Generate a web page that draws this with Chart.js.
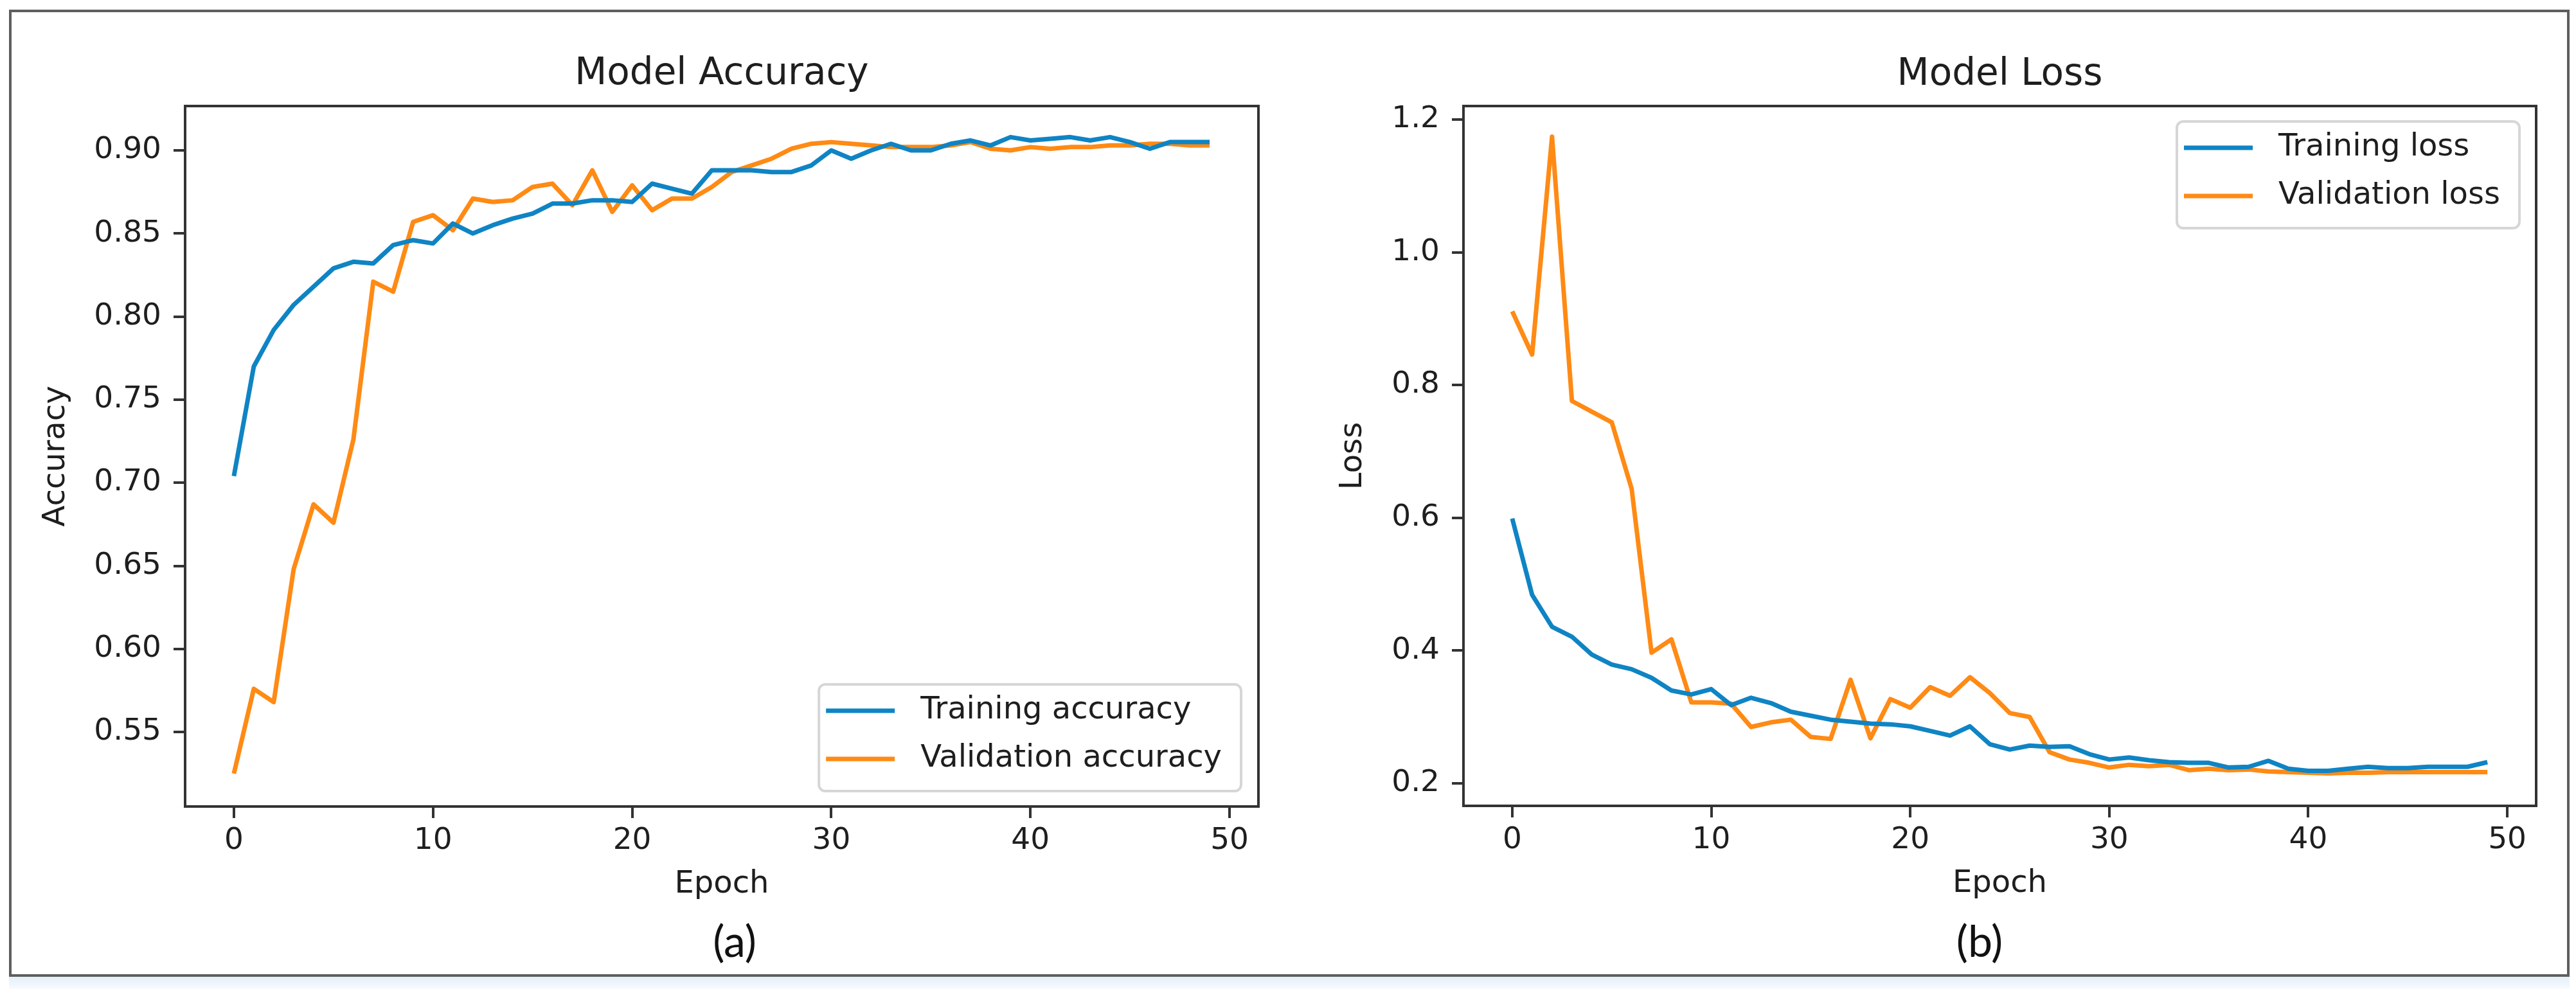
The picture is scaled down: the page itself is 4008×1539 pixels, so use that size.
<!DOCTYPE html>
<html>
<head>
<meta charset="utf-8">
<script src="https://cdn.jsdelivr.net/npm/chart.js@4.4.1/dist/chart.umd.min.js"></script>
<style>
html,body{margin:0;padding:0;background:#fff;}
body{width:4008px;height:1539px;position:relative;overflow:hidden;}
#frame{position:absolute;left:14px;top:15px;width:3984px;height:1505px;box-sizing:border-box;border:4px solid #5e5e5e;}
#strip{position:absolute;left:14px;top:1520px;width:3984px;height:19px;background:linear-gradient(#e4eff9,#f8fbfe);}
canvas{position:absolute;top:0;}
#c1{left:0;}
#c2{left:2004px;}
</style>
</head>
<body>
<div id="frame"></div>
<div id="strip"></div>
<canvas id="c1" width="2004" height="1539"></canvas>
<canvas id="c2" width="2004" height="1539"></canvas>
<script>
// ---------- data ----------
const epochs = [0,1,2,3,4,5,6,7,8,9,10,11,12,13,14,15,16,17,18,19,20,21,22,23,24,25,26,27,28,29,30,31,32,33,34,35,36,37,38,39,40,41,42,43,44,45,46,47,48,49];
const epochTicks = [0,10,20,30,40,50];
const accTicks = [0.55,0.60,0.65,0.70,0.75,0.80,0.85,0.90];
const lossTicks = [0.2,0.4,0.6,0.8,1.0,1.2];

const trainAcc = [0.704,0.770,0.792,0.807,0.818,0.829,0.833,0.832,0.843,0.846,0.844,0.856,0.850,0.855,0.859,0.862,0.868,0.868,0.870,0.870,0.869,0.880,0.877,0.874,0.888,0.888,0.888,0.887,0.887,0.891,0.900,0.895,0.900,0.904,0.900,0.900,0.904,0.906,0.903,0.908,0.906,0.907,0.908,0.906,0.908,0.905,0.901,0.905,0.905,0.905];
const valAcc = [0.525,0.576,0.568,0.648,0.687,0.676,0.726,0.821,0.815,0.857,0.861,0.852,0.871,0.869,0.870,0.878,0.880,0.867,0.888,0.863,0.879,0.864,0.871,0.871,0.878,0.887,0.891,0.895,0.901,0.904,0.905,0.904,0.903,0.902,0.902,0.902,0.903,0.905,0.901,0.900,0.902,0.901,0.902,0.902,0.903,0.903,0.904,0.904,0.903,0.903];
const trainLoss = [0.599,0.484,0.436,0.421,0.394,0.379,0.372,0.359,0.340,0.334,0.342,0.318,0.329,0.321,0.308,0.302,0.296,0.293,0.290,0.289,0.286,0.279,0.272,0.286,0.259,0.251,0.257,0.255,0.256,0.244,0.236,0.239,0.235,0.232,0.231,0.231,0.224,0.225,0.234,0.222,0.219,0.219,0.222,0.225,0.223,0.223,0.225,0.225,0.225,0.232];
const valLoss = [0.911,0.846,1.174,0.776,0.760,0.744,0.644,0.397,0.417,0.322,0.322,0.320,0.285,0.292,0.296,0.270,0.267,0.356,0.268,0.327,0.314,0.345,0.332,0.360,0.336,0.306,0.300,0.247,0.236,0.231,0.224,0.228,0.226,0.228,0.220,0.222,0.220,0.221,0.218,0.217,0.216,0.215,0.216,0.216,0.217,0.217,0.217,0.217,0.217,0.217];

// ---------- style ----------
const FAMILY = '"DejaVu Sans", sans-serif';
const TEXT = '#1e1e1e';
const BLUE = '#0f84c4';
const ORANGE = '#ff8a14';
const SPINE = '#333333';

const pts = arr => epochs.map((e, i) => ({x: e, y: arr[i]}));

const deco = {
  id: 'deco',
  afterDraw(chart, args, o) {
    const {ctx, chartArea: a} = chart;
    ctx.save();
    // axes box
    ctx.strokeStyle = SPINE; ctx.lineWidth = 4;
    ctx.strokeRect(a.left, a.top, a.right - a.left, a.bottom - a.top);
    // title
    ctx.fillStyle = TEXT;
    ctx.font = '58px ' + FAMILY;
    ctx.textAlign = 'center'; ctx.textBaseline = 'alphabetic';
    ctx.fillText(o.title, (a.left + a.right) / 2, o.titleBaseline);
    // legend
    ctx.font = '48px ' + FAMILY;
    const ds = chart.data.datasets;
    const tw = Math.max(...ds.map(d => ctx.measureText(d.label).width));
    const w = 158 + tw + 30, h = 166;
    const x = a.right - o.legendRight - w;
    const y = o.legendTop ? a.top + o.legendGap : a.bottom - o.legendGap - h;
    ctx.beginPath();
    ctx.roundRect(x, y, w, h, 10);
    ctx.fillStyle = 'rgba(255,255,255,0.85)'; ctx.fill();
    ctx.strokeStyle = '#d6d6d6'; ctx.lineWidth = 4; ctx.stroke();
    ds.forEach((d, i) => {
      const cy = y + 41 + i * 75;
      ctx.beginPath(); ctx.moveTo(x + 11, cy); ctx.lineTo(x + 118, cy);
      ctx.strokeStyle = d.borderColor; ctx.lineWidth = 7; ctx.lineCap = 'butt'; ctx.stroke();
      ctx.fillStyle = TEXT; ctx.textAlign = 'left'; ctx.textBaseline = 'middle';
      ctx.fillText(d.label, x + 158, cy);
    });
    // caption
    ctx.font = '68px Lato, "Open Sans", sans-serif';
    ctx.textAlign = 'center'; ctx.textBaseline = 'alphabetic'; ctx.fillStyle = '#111';
    ctx.fillText(o.caption, o.captionX, o.captionBaseline);
    ctx.restore();
  }
};

function lineDs(label, arr, color) {
  return {label, data: pts(arr), borderColor: color, backgroundColor: color, borderWidth: 7,
          pointRadius: 0, tension: 0, fill: false, borderJoinStyle: 'round', borderCapStyle: 'butt'};
}

function makeChart(id, cfg) {
  const tickFont = {family: FAMILY, size: 47};
  const labelFont = {family: FAMILY, size: 48};
  const gridOpt = {display: true, drawOnChartArea: false, drawTicks: true, tickLength: 18, lineWidth: 4, color: SPINE};
  return new Chart(document.getElementById(id), {
    type: 'line',
    data: {datasets: cfg.datasets},
    options: {
      responsive: false, animation: false, devicePixelRatio: 1, events: [],
      layout: {padding: cfg.padding},
      plugins: {legend: {display: false}, tooltip: {enabled: false}, title: {display: false}, deco: cfg.deco},
      scales: {
        x: {
          type: 'linear', min: -2.45, max: 51.45,
          afterBuildTicks: s => { s.ticks = epochTicks.map(v => ({value: v})); },
          afterFit: s => { s.height = 160; },
          ticks: {font: tickFont, color: TEXT, padding: 8, maxRotation: 0, autoSkip: false, callback: v => String(v)},
          grid: gridOpt, border: {display: false},
          title: {display: true, text: 'Epoch', font: labelFont, color: TEXT, padding: {top: 0, bottom: 10}}
        },
        y: {
          type: 'linear', min: cfg.yMin, max: cfg.yMax,
          afterBuildTicks: s => { s.ticks = cfg.yTicks.map(v => ({value: v})); },
          afterFit: s => { s.width = cfg.yWidth; },
          ticks: {font: tickFont, color: TEXT, padding: 19, autoSkip: false, callback: v => v.toFixed(cfg.dec)},
          grid: gridOpt, border: {display: false},
          title: {display: true, text: cfg.yTitle, font: labelFont, color: TEXT, padding: {top: cfg.yTitlePad, bottom: 0}}
        }
      }
    },
    plugins: [deco]
  });
}

makeChart('c1', {
  datasets: [lineDs('Training accuracy', trainAcc, BLUE), lineDs('Validation accuracy', valAcc, ORANGE)],
  padding: {left: 0, right: 46, top: 165, bottom: 124},
  yMin: 0.5052, yMax: 0.9267, yTicks: accTicks, dec: 2, yWidth: 288, yTitle: 'Accuracy', yTitlePad: 59,
  deco: {title: 'Model Accuracy', titleBaseline: 131, legendTop: false, legendRight: 27, legendGap: 24,
         caption: '(a)', captionX: 1143, captionBaseline: 1489}
});

makeChart('c2', {
  datasets: [lineDs('Training loss', trainLoss, BLUE), lineDs('Validation loss', valLoss, ORANGE)],
  padding: {left: 0, right: 62, top: 165, bottom: 125},
  yMin: 0.1662, yMax: 1.2203, yTicks: lossTicks, dec: 1, yWidth: 273, yTitle: 'Loss', yTitlePad: 73,
  deco: {title: 'Model Loss', titleBaseline: 132, legendTop: true, legendRight: 26, legendGap: 24,
         caption: '(b)', captionX: 1076, captionBaseline: 1489}
});
</script>
</body>
</html>
